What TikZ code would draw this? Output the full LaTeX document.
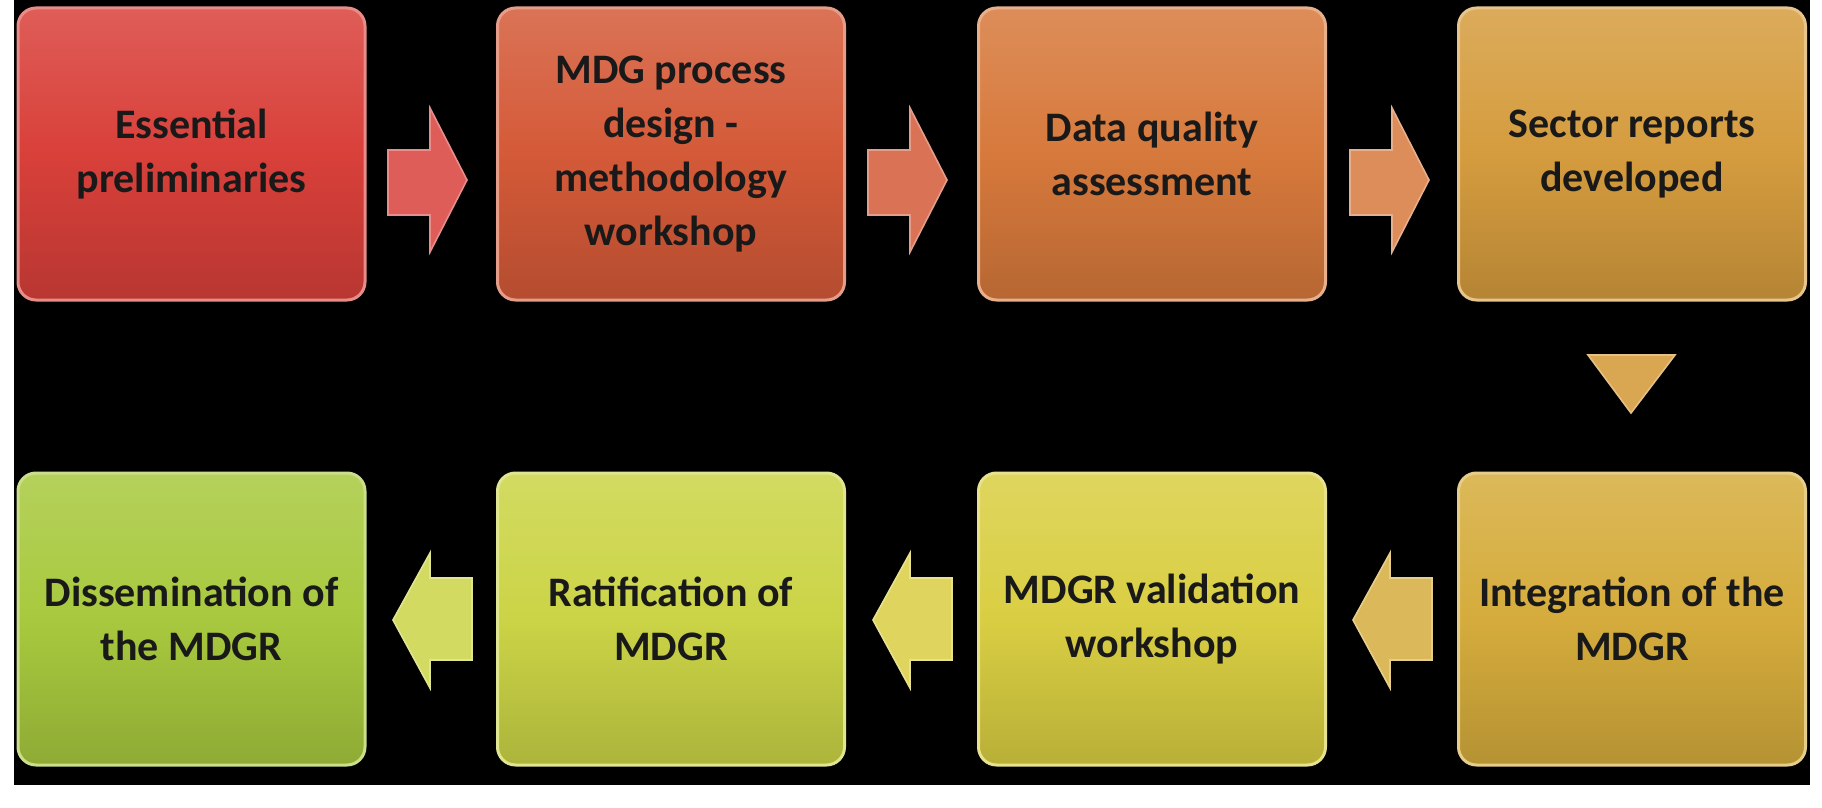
\documentclass[tikz,border=0pt]{standalone}
\usepackage{fontspec}
\setmainfont{Carlito}
\begin{document}
\begin{tikzpicture}[x=0.5pt,y=-0.5pt,
  stepbox/.style={rounded corners=9pt,draw=#1!60!white,line width=1.5pt,top color=#1!85!white,bottom color=#1!85!black,middle color=#1,
    minimum width=173.5pt,minimum height=146pt,align=center,text=black!90,font=\fontsize{21}{27}\selectfont\bfseries,inner sep=0pt},
  arr/.style={fill=#1,draw=#1!70!white,line width=0.8pt}]
\useasboundingbox (0,0) rectangle (1822,808);
\fill[white] (0,0) rectangle (1822,808);
\fill[black] (14,0) rectangle (1810,785);
\definecolor{c1}{HTML}{D9403A}\definecolor{c2}{HTML}{D45A38}
\definecolor{c3}{HTML}{D7793C}\definecolor{c4}{HTML}{D59C3E}
\definecolor{c5}{HTML}{D5AC3C}\definecolor{c6}{HTML}{D9CE42}
\definecolor{c7}{HTML}{CBD446}\definecolor{c8}{HTML}{A8C93E}
\node[stepbox=c1] (b1) at (191.5,154) {Essential\\preliminaries};
\node[stepbox=c2] (b2) at (671,154) {MDG process\\design -\\methodology\\workshop};
\node[stepbox=c3] (b3) at (1152,154) {Data quality\\assessment};
\node[stepbox=c4] (b4) at (1632,154) {Sector reports\\developed};
\node[stepbox=c5] (b5) at (1632,619) {Integration of the\\MDGR};
\node[stepbox=c6] (b6) at (1152,619) {MDGR validation\\workshop};
\node[stepbox=c7] (b7) at (671,619) {Ratification of\\MDGR};
\node[stepbox=c8] (b8) at (191.5,619) {Dissemination of\\the MDGR};
\foreach \x/\c in {388/c1,868/c2,1350/c3}{
  \filldraw[arr=\c!85!white] (\x,150) -- (\x+42,150) -- (\x+42,108) -- (\x+79,180) -- (\x+42,252) -- (\x+42,215) -- (\x,215) -- cycle;}
\filldraw[arr=c4!90!white] (1588,355) -- (1675,355) -- (1631,413) -- cycle;
\foreach \x/\c in {1432/c5,952/c6,472/c7}{
  \filldraw[arr=\c!85!white] (\x,578) -- (\x-42,578) -- (\x-42,553) -- (\x-79,620) -- (\x-42,688) -- (\x-42,660) -- (\x,660) -- cycle;}
\end{tikzpicture}
\end{document}
